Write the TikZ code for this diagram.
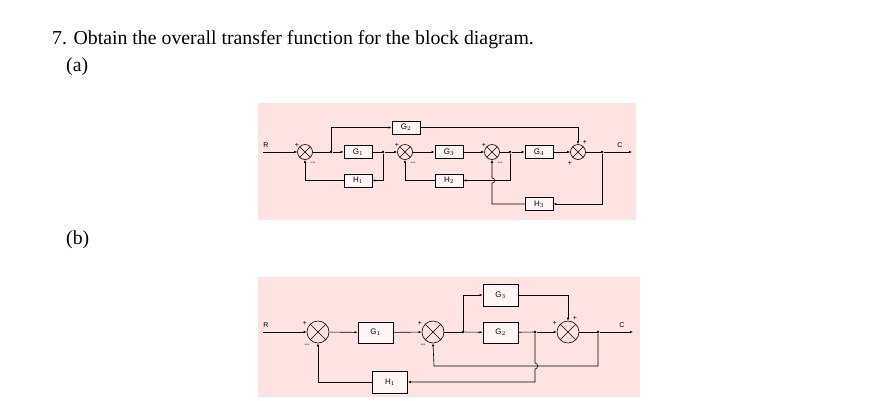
\documentclass[tikz,border=0pt]{standalone}
\usepackage{fontspec}
\setmainfont{Liberation Serif}
\newfontfamily\lab{Liberation Sans}
\usetikzlibrary{arrows.meta}
\begin{document}
\begin{tikzpicture}[x=1pt,y=-1pt,
  blk/.style={draw,line width=0.9pt,fill=white!85!pink,minimum width=#1,minimum height=13pt,inner sep=0pt,font=\lab\fontsize{8}{8}\selectfont},
  blk/.default=28pt,
  sj/.style={draw,circle,minimum size=#1,inner sep=0pt,line width=0.6pt,path picture={
     \draw[line width=0.5pt] (path picture bounding box.south west)--(path picture bounding box.north east)
       (path picture bounding box.north west)--(path picture bounding box.south east);}},
  sj/.default=15pt,
  sig/.style={-{Latex[length=3pt,width=2.5pt]},line width=0.6pt},
  ln/.style={line width=0.6pt},
  dot/.style={circle,fill,inner sep=0pt,minimum size=2.6pt},
  sg/.style={font=\lab\fontsize{7}{7}\selectfont,inner sep=0.5pt},
  tx/.style={font=\fontsize{19.8}{22}\selectfont,anchor=west,inner sep=0pt}]
\useasboundingbox[fill=white] (0,0) rectangle (876,400);
\node[tx] (title) at (52,40) {7. Obtain the overall transfer function for the block diagram.};
\node[tx] (la) at (66,67) {(a)};
\node[tx] (lb) at (66,240) {(b)};
% ---------- (a)
\fill[pink!45] (258,103) rectangle (636,220);
\node[sg] (Ra) at (266,145) {R};
\coordinate (ra) at (263,152);
\node[sj] (s1) at (305,152) {};
\node[blk] (g1) at (358,152) {G$_1$};
\node[blk] (g2) at (406,127.5) {G$_2$};
\node[sj] (s2) at (405,152) {};
\node[blk] (g3) at (449,152) {G$_3$};
\node[sj] (s3) at (492,152) {};
\node[blk] (g4) at (539,152) {G$_4$};
\node[sj] (s4) at (578,152) {};
\node[blk] (h1) at (358,180.5) {H$_1$};
\node[blk] (h2) at (449,180.5) {H$_2$};
\node[blk] (h3) at (539,204) {H$_3$};
\node[dot] (b1) at (331,152) {};
\node[dot] (b2) at (383,152) {};
\node[dot] (b3) at (510,152) {};
\node[dot] (b4) at (602,152) {};
\coordinate (ca) at (632,152);
\node[sg] (Ca) at (620,145) {C};
\draw[sig] (ra)--(s1);
\draw[ln] (s1)--(b1); \draw[sig] (b1)--(g1);
\draw[sig] (b1)|-(g2);
\draw[sig] (g2)-|(s4);
\draw[ln] (g1)--(b2); \draw[sig] (b2)--(s2);
\draw[sig] (b2)|-(h1);
\draw[sig] (h1)-|(s1);
\draw[sig] (s2)--(g3); \draw[sig] (g3)--(s3);
\draw[ln] (s3)--(b3); \draw[sig] (b3)--(g4);
\draw[sig] (b3)|-(h2);
\draw[sig] (h2)-|(s2);
\draw[sig] (g4)--(s4);
\draw[ln] (s4)--(b4); \draw[sig] (b4)--(ca);
\draw[sig] (b4)|-(h3);
\draw[sig] (h3.west)-|(492,183) .. controls (495.5,183) and (495.5,178) .. (492,178) -- (s3.south);
\node[sg] at (297,145) {+}; \node[sg] at (313,163) {--};
\node[sg] at (397,145) {+}; \node[sg] at (413,163) {--};
\node[sg] at (484,145) {+}; \node[sg] at (500,163) {--};
\node[sg] at (570,163) {+}; \node[sg] at (585,142) {+};
% ---------- (b)
\fill[pink!45] (258,277) rectangle (640,397);
\node[sg] (Rb) at (266,325) {R};
\coordinate (rb) at (263,332);
\node[sj=22pt] (t1) at (318,332) {};
\node[blk=35pt,minimum height=21pt] (k1) at (375.5,332.5) {G$_1$};
\node[sj=22pt] (t2) at (433,332) {};
\node[blk=35pt,minimum height=22pt] (k3) at (500.5,295) {G$_3$};
\node[blk=35pt,minimum height=21pt] (k2) at (500.5,332.5) {G$_2$};
\node[sj=22pt] (t3) at (568,332) {};
\node[blk=35pt,minimum height=22pt] (kh) at (390,382) {H$_1$};
\node[dot] (c1) at (463,332) {};
\node[dot] (c2) at (535,332) {};
\node[dot] (c3) at (598,332) {};
\coordinate (cb) at (633,332);
\node[sg] (Cb) at (622,325) {C};
\draw[sig] (rb)--(t1);
\draw[sig] (t1)--(k1); \draw[sig] (k1)--(t2);
\draw[ln] (t2)--(c1); \draw[sig] (c1)--(k2);
\draw[sig] (c1)|-(k3);
\draw[sig] (k3)-|(t3);
\draw[ln] (k2)--(c2); \draw[sig] (c2)--(t3);
\draw[ln] (t3)--(c3); \draw[sig] (c3)--(cb);
\draw[sig] (c3)|-(434,366)--(t2.south);
\draw[sig] (c2)--(535,363) .. controls (538.5,363) and (538.5,369) .. (535,369) -- (535,382) -- (kh.east);
\draw[sig] (kh.west)-|(t1.south);
\node[sg] at (305,323) {+}; \node[sg] at (307,345) {--};
\node[sg] at (420,323) {+}; \node[sg] at (423,345) {--};
\node[sg] at (555,323) {+}; \node[sg] at (575,318) {+};
\end{tikzpicture}
\end{document}
